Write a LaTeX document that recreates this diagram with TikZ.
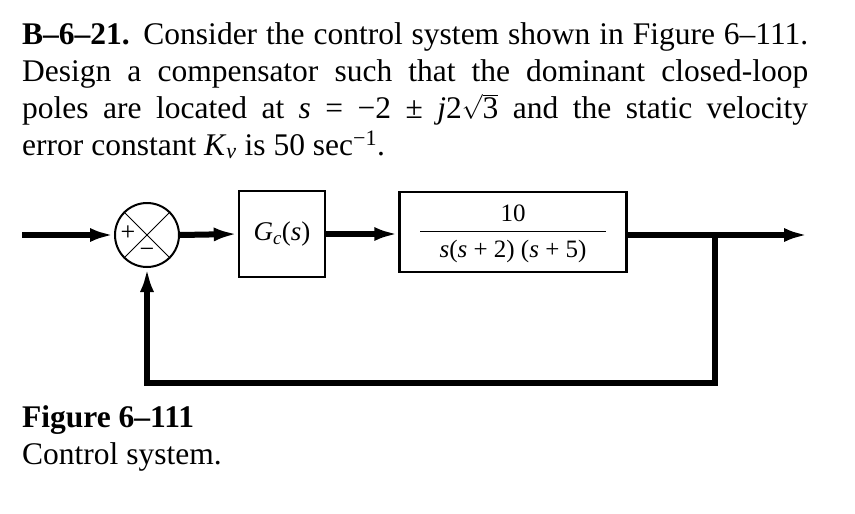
\documentclass[tikz,border=0pt]{standalone}
\usepackage{fontspec}
\setmainfont{Liberation Serif}
\usetikzlibrary{arrows.meta}
\newcommand{\iv}[1]{\textit{#1}}
\begin{document}
\begin{tikzpicture}[x=1pt,y=-1pt,
  sig/.style={line width=6pt,-{Latex[length=24pt,width=14pt]}},
  blk/.style={draw,line width=2.5pt,inner sep=0pt},
  para/.style={anchor=base west,inner sep=0pt,font=\fontsize{31.5}{37}\selectfont}]
\useasboundingbox (0,0) rectangle (855,514);
\node[para] (l1) at (22,44) {\makebox[786pt][s]{\textbf{B–6–21.} Consider the control system shown in Figure 6–111.}};
\node[para] (l2) at (22,81) {\makebox[786pt][s]{Design a compensator such that the dominant closed-loop}};
\node[para] (l3) at (22,118) {\makebox[786pt][s]{poles are located at \iv{s} = −2 ± \iv{j}2$\sqrt{\mbox{3}}$ and the static velocity}};
\node[para] (l4) at (22,155) {error constant \iv{K}\textsubscript{\iv{v}} is 50 sec\textsuperscript{−1}.};
\node[circle,draw,line width=2pt,minimum size=64pt,inner sep=0pt] (sum) at (147,235) {};
\draw[line width=1pt] (sum.north west)--(sum.south east) (sum.north east)--(sum.south west);
\node[font=\fontsize{26}{26}\selectfont] (p) at (128,233) {+};
\node[font=\fontsize{26}{26}\selectfont] (m) at (147,253) {−};
\node[blk,minimum width=86pt,minimum height=86pt,font=\fontsize{27}{27}\selectfont] (gc) at (282,234) {\iv{G}\textsubscript{\iv{c}}(\iv{s})};
\node[blk,minimum width=227pt,minimum height=80pt] (g) at (513,232) {};
\node[font=\fontsize{25}{25}\selectfont] (num) at (513,213) {10};
\node[font=\fontsize{25}{25}\selectfont] (den) at (513,251) {\iv{s}(\iv{s} + 2) (\iv{s} + 5)};
\draw[line width=1pt] (420,231) -- (606,231);
\coordinate (in) at (22,235);
\coordinate (out) at (808,235);
\coordinate (br) at (715,235);
\coordinate (c1) at (715,383);
\coordinate (c2) at (147,383);
\draw[sig] (in) -- (sum.west);
\draw[sig] (sum.east) -- (gc.west);
\draw[sig] (gc.east) -- (g.west|-gc.east);
\draw[sig] (g.east|-out) -- (out);
\draw[sig] (br) -- (c1) -- (c2) -- (sum.south);
\node[anchor=base west,inner sep=0pt,font=\fontsize{31.5}{31.5}\selectfont\bfseries] (f1) at (22,427) {Figure 6–111};
\node[anchor=base west,inner sep=0pt,font=\fontsize{31.5}{31.5}\selectfont] (f2) at (22,464) {Control system.};
\end{tikzpicture}
\end{document}
